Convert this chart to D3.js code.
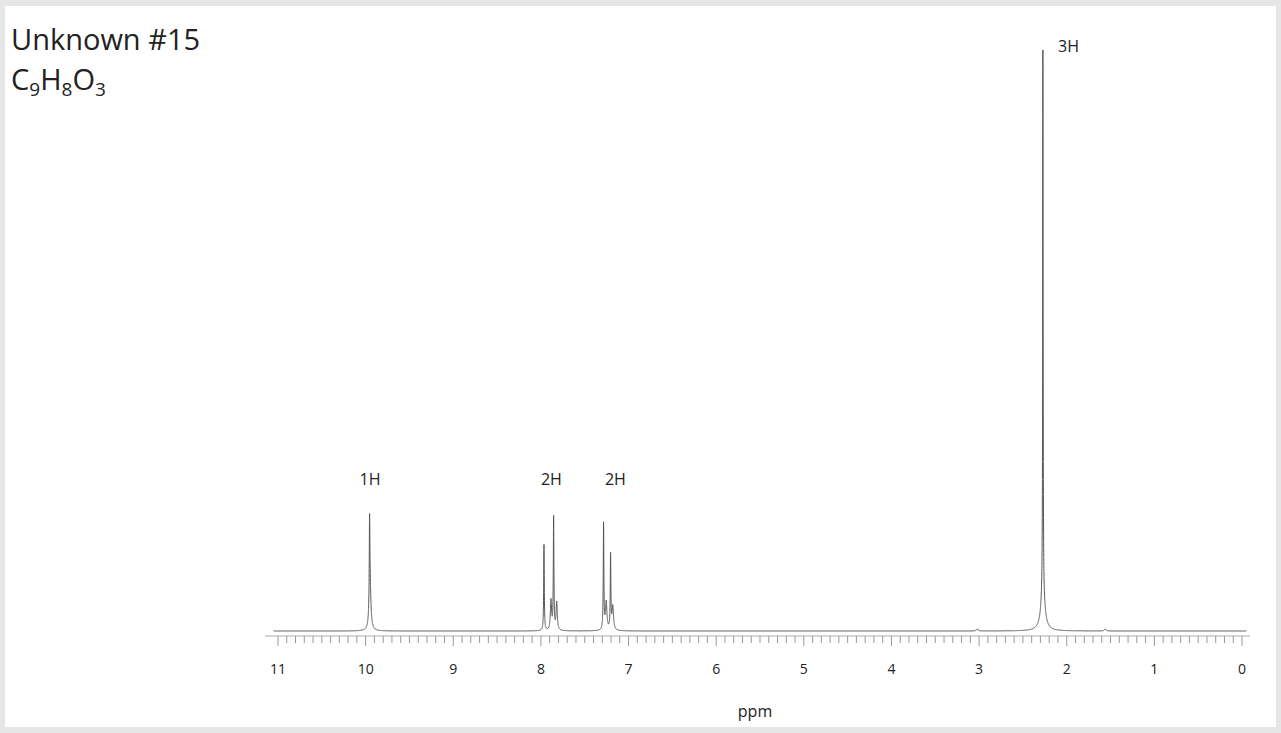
<!DOCTYPE html>
<html><head><meta charset="utf-8">
<script src="https://cdn.jsdelivr.net/npm/d3@7"></script>
<style>
body{margin:0;background:#e6e6e6;}
svg{display:block;}
</style></head><body>
<svg id="c" width="1281" height="733"></svg>
<script>
// peak list: ppm, height (relative), half width (ppm)
const peakPpm    = [9.955, 9.95, 7.965, 7.885, 7.855, 7.82, 7.285, 7.255, 7.205, 7.18, 2.272, 2.272, 2.272, 3.02, 1.56];
const peakHeight = [80, 44, 86, 30, 112, 28, 106, 28, 74, 24, 330, 220, 31, 2, 2];
const peakWidth  = [0.004, 0.012, 0.004, 0.008, 0.004, 0.008, 0.004, 0.01, 0.004, 0.01, 0.0022, 0.004, 0.03, 0.01, 0.01];
const tickValues = [11, 10, 9, 8, 7, 6, 5, 4, 3, 2, 1, 0];
const labels = [
  {ppm: 9.95, text: "1H", y: 485},
  {ppm: 7.88, text: "2H", y: 485},
  {ppm: 7.15, text: "2H", y: 485},
  {ppm: 1.98, text: "3H", y: 52}
];

const svg = d3.select("#c");
svg.append("rect").attr("x", 5).attr("y", 6).attr("width", 1271).attr("height", 721).attr("fill", "#fff");

const x = d3.scaleLinear().domain([11, 0]).range([278, 1242]);
const y = d3.scaleLinear().domain([0, 581]).range([631, 50]);

const spectrum = [];
for (let p = 11.05; p >= -0.05; p -= 0.0005) {
  let v = 0;
  peakPpm.forEach((c, i) => {
    const w = peakWidth[i], d = p - c;
    v += peakHeight[i] * w * w / (d * d + w * w);
  });
  spectrum.push([p, v]);
}

svg.append("path").datum(spectrum)
  .attr("fill", "none").attr("stroke", "#555").attr("stroke-width", 1)
  .attr("d", d3.line().x(d => x(d[0])).y(d => y(d[1])));

// axis
const g = svg.append("g").attr("transform", "translate(0,636)");
g.append("line").attr("x1", 265).attr("x2", 1250).attr("stroke", "#aaa");
g.selectAll("line.t").data(d3.range(0, 111).map(i => i / 10)).join("line")
  .attr("x1", d => x(d)).attr("x2", d => x(d))
  .attr("y1", 0).attr("y2", (d, i) => i % 10 === 0 ? 10 : 7)
  .attr("stroke", "#999");
g.selectAll("text").data(tickValues).join("text")
  .attr("x", d => x(d)).attr("y", 38).attr("text-anchor", "middle")
  .attr("font-family", "Open Sans, sans-serif").attr("font-size", 14).attr("fill", "#222")
  .text(d => d);

svg.append("text").attr("x", 755).attr("y", 717).attr("text-anchor", "middle")
  .attr("font-family", "Open Sans, sans-serif").attr("font-size", 16).attr("fill", "#222").text("ppm");

svg.selectAll("text.lab").data(labels).join("text").attr("class", "lab")
  .attr("x", d => x(d.ppm)).attr("y", d => d.y).attr("text-anchor", "middle")
  .attr("font-family", "Open Sans, sans-serif").attr("font-size", 16).attr("fill", "#222")
  .text(d => d.text);

const title = svg.append("g").attr("font-family", "Open Sans, sans-serif").attr("fill", "#222");
title.append("text").attr("x", 11).attr("y", 50).attr("font-size", 29).text("Unknown #15");
const f = title.append("text").attr("x", 11).attr("y", 90).attr("font-size", 29);
[["C", 0], ["9", 1], ["H", 0], ["8", 1], ["O", 0], ["3", 1]].forEach(([t, s]) => {
  f.append("tspan").text(t).attr("font-size", s ? 19 : 29).attr("dy", s ? 6 : (t === "C" ? 0 : -6));
});
</script>
</body></html>
